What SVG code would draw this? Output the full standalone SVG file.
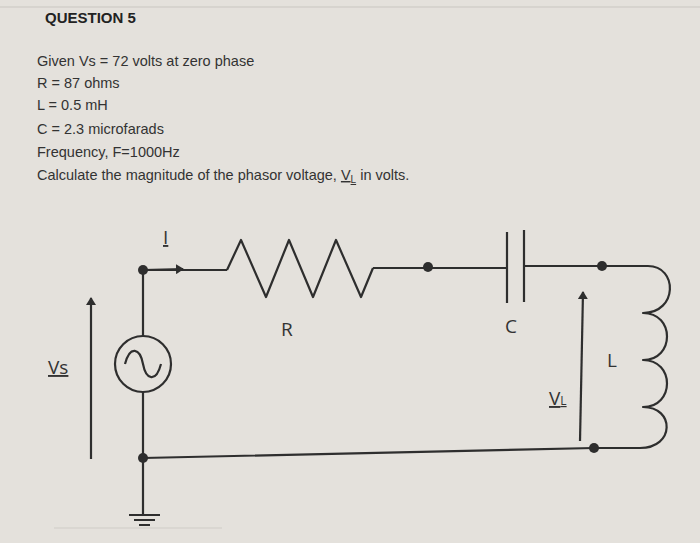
<svg xmlns="http://www.w3.org/2000/svg" width="700" height="543" viewBox="0 0 700 543">
<style>
.t{font-family:"Liberation Sans",Arial,sans-serif;font-size:14.5px;fill:#333}
.w{fill:none;stroke:#2e2e2e;stroke-width:2.2;stroke-linejoin:round}
.d{fill:#2e2e2e}
.lb{font-family:"Open Sans","Liberation Sans",sans-serif;font-size:19px;fill:#333}
</style>
<defs><marker id="a" markerWidth="8" markerHeight="10" refX="7" refY="5" orient="auto" markerUnits="userSpaceOnUse"><path d="M0,0 L8,5 L0,10 Z" fill="#2e2e2e"/></marker></defs>
<rect width="700" height="543" fill="#e4e1dc"/>
<line x1="0" y1="7" x2="700" y2="7" stroke="#c9c6c1"/>
<line x1="54" y1="528" x2="222" y2="528" stroke="#cfccc7"/>
<g id="text">
<text x="45" y="23" class="t" style="font-weight:bold;font-size:15px;fill:#222">QUESTION 5</text>
<text x="37" y="66" class="t">Given Vs = 72 volts at zero phase</text>
<text x="37" y="88" class="t">R = 87 ohms</text>
<text x="37" y="110" class="t">L = 0.5 mH</text>
<text x="37" y="134" class="t">C = 2.3 microfarads</text>
<text x="37" y="157" class="t">Frequency, F=1000Hz</text>
<text x="37" y="180" class="t">Calculate the magnitude of the phasor voltage, <tspan text-decoration="underline">V<tspan font-size="10" dy="3">L</tspan></tspan><tspan dy="-3"> in volts.</tspan></text>
</g>
<g id="connectors">
<path class="w" d="M143,270 H227 M373,268 H428 H507 M524,266 H602 M143,270 V336 M143,392 V458 V515 M143,458 L594,448"/>
<line x1="143" y1="270" x2="183" y2="269" class="w" marker-end="url(#a)"/>
<line x1="91" y1="459" x2="91" y2="298" class="w" marker-end="url(#a)" stroke-width="1.8"/>
<line x1="580" y1="441" x2="583" y2="292" class="w" marker-end="url(#a)" stroke-width="1.8"/>
</g>
<g id="R"><path class="w" d="M227,270 L241,240 L266,297 L289,240 L313,297 L336,240 L361,297 L373,268"/><text x="281" y="336" class="lb">R</text></g>
<g id="C"><path class="w" d="M507,232 V303 M524,230 V302"/><text x="505" y="333" class="lb">C</text></g>
<g id="L"><path class="w" d="M602,266 H648 C678,266 678,313 643,313 C675,313 675,360 643,360 C675,360 675,407 643,407 C675,407 675,448 640,448 H594"/><text x="607" y="367" class="lb">L</text></g>
<g id="Vs"><circle cx="143" cy="364" r="28" class="w"/><path class="w" d="M125,364 C130,345 140,348 143,364 C146,380 156,383 161,364"/><text x="48" y="374" class="lb" text-decoration="underline">Vs</text></g>
<g id="ground"><path class="w" d="M129,515 H160 M134,520 H155 M139,525 H150"/></g>
<g id="labels"><text x="163" y="244" class="lb" text-decoration="underline">I</text>
<text x="549" y="405" class="lb" text-decoration="underline">V<tspan font-size="12">L</tspan></text></g>
<g id="nodes" class="d"><circle cx="143" cy="270" r="5"/><circle cx="428" cy="267" r="5"/><circle cx="602" cy="266" r="5"/><circle cx="143" cy="458" r="5"/><circle cx="594" cy="448" r="5"/></g>
</svg>
